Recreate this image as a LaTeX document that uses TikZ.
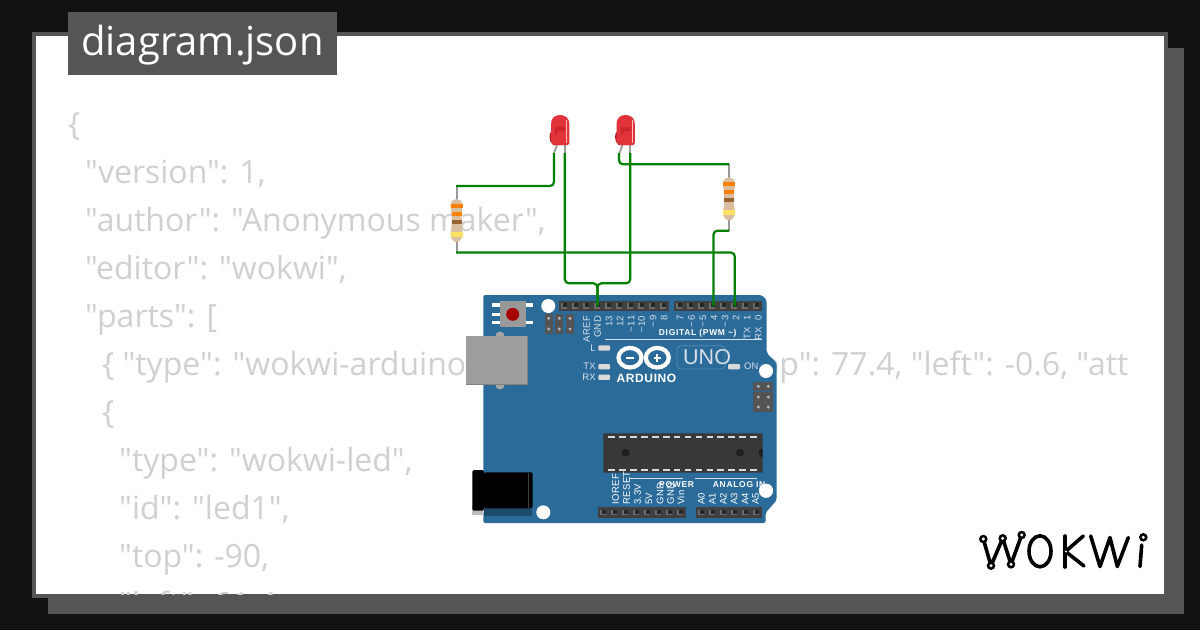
\documentclass[tikz,border=0pt]{standalone}
\usepackage{fontspec}
\newfontfamily\codefont{Open Sans}
\newfontfamily\labelfont{Liberation Sans}
\usetikzlibrary{calc}

\definecolor{pagedark}{HTML}{111111}
\definecolor{framegray}{HTML}{555555}
\definecolor{codegray}{HTML}{D0D0D0}
\definecolor{boardblue}{HTML}{2B6B9A}
\definecolor{wiregreen}{HTML}{008000}
\definecolor{silk}{HTML}{D5E0E8}
\definecolor{resbody}{HTML}{D9BF9F}
\definecolor{ledred}{HTML}{E0343A}
\definecolor{leddark}{HTML}{B81C22}

\tikzset{
  wire/.style = {draw = wiregreen, line width = 2.2pt, rounded corners = 4pt},
  lead/.style = {draw = black!40, line width = 1.8pt},
  codeline/.style = {anchor = base west, inner sep = 0pt, text = codegray, font = \codefont\fontsize{32}{32}\selectfont},
  silkv/.style = {rotate = 90, inner sep = 0pt, text = silk, font = \labelfont\fontsize{9.5}{9.5}\selectfont},
  silkh/.style = {inner sep = 0pt, text = silk, font = \labelfont\fontsize{9.5}{9.5}\selectfont},
  silkbold/.style = {inner sep = 0pt, text = white, font = \labelfont\bfseries\fontsize{8.5}{8.5}\selectfont},
  logo/.style = {draw = black, line width = 3.6pt, line cap = round, line join = round}
}

% header strip: x, y, number of pins
\newcommand{\pinheader}[3]{
  \fill[black!75] (#1, #2) rectangle +({11 * #3}, 10.4);
  \foreach \i in {1, ..., #3}{
    \fill[black!58] ($(#1, #2) + ({11 * \i - 8.5}, 2.5)$) rectangle +(6, 5.5);
    \fill[black!85] ($(#1, #2) + ({11 * \i - 7}, 2.5)$) rectangle +(4.5, 4);
  }
}

% red led: x of body centre
\newcommand{\redled}[1]{
  \draw[lead] (#1 - 3, 145) -- (#1 - 6, 153);
  \draw[lead] (#1 + 4.6, 145) -- (#1 + 4.6, 153);
  \fill[leddark] (#1 - 8, 131) .. controls (#1 - 11, 132) and (#1 - 12, 141) .. (#1 - 7, 145) -- (#1 + 6, 145) -- (#1 + 6, 131) -- cycle;
  \fill[ledred] (#1 - 9, 142) -- (#1 - 9, 124) .. controls (#1 - 9, 118) and (#1 - 5, 115) .. (#1, 115) .. controls (#1 + 5, 115) and (#1 + 9.4, 118) .. (#1 + 9.4, 124) -- (#1 + 9.4, 143) -- (#1 + 8, 145) -- (#1 - 6, 145) -- cycle;
  \draw[red!25!white, line width = .9pt] (#1 + 6.5, 120) -- (#1 + 6.5, 143);
  \fill[leddark, opacity = .5] (#1 - 5, 127) -- (#1 + 5, 127) -- (#1 + 5, 131) -- (#1 - 1, 131) -- (#1 - 5, 136) -- cycle;
}

% resistor: x of centre, y of top of body
\newcommand{\axialres}[2]{
  \fill[resbody] (#1 - 6, #2 + 7) .. controls (#1 - 6, #2 + 2) and (#1 - 3, #2) .. (#1, #2) .. controls (#1 + 3, #2) and (#1 + 6, #2 + 2) .. (#1 + 6, #2 + 7) -- (#1 + 5, #2 + 17) -- (#1 + 5, #2 + 27) -- (#1 + 6, #2 + 35) .. controls (#1 + 6, #2 + 40) and (#1 + 3, #2 + 43) .. (#1, #2 + 43) .. controls (#1 - 3, #2 + 43) and (#1 - 6, #2 + 40) .. (#1 - 6, #2 + 35) -- (#1 - 5, #2 + 27) -- (#1 - 5, #2 + 17) -- cycle;
  \fill[orange] (#1 - 6, #2 + 4.5) rectangle (#1 + 6, #2 + 9);
  \fill[orange] (#1 - 5, #2 + 12.7) rectangle (#1 + 5, #2 + 16.7);
  \fill[brown!80!black] (#1 - 5, #2 + 21) rectangle (#1 + 5, #2 + 25);
  \fill[yellow!70!orange!60!white] (#1 - 6, #2 + 33) rectangle (#1 + 6, #2 + 38);
}

\begin{document}
\begin{tikzpicture}[x = 1pt, y = -1pt]
  \useasboundingbox (0, 0) rectangle (1200, 630);
  \fill[pagedark] (0, 0) rectangle (1200, 630);

  % frame
  \fill[framegray] (48, 48) rectangle (1184, 614);
  \fill[framegray] (32, 32) rectangle (1168, 598);
  \fill[white] (36, 36) rectangle (1164, 594);

  % code behind the board
  \begin{scope}
    \clip (36, 36) rectangle (1164, 594);
    \foreach \y/\x/\s in {135/68/{\{},
        183/85/{"version": 1,},
        231/85/{"author": "Anonymous maker",},
        279/85/{"editor": "wokwi",},
        327/85/{"parts": [},
        375/102/{\{ "type": "wokwi-arduino-uno", "id": "uno", "top": 77.4, "left": -0.6, "att},
        423/102/{\{},
        471/119/{"type": "wokwi-led",},
        519/119/{"id": "led1",},
        567/119/{"top": -90,},
        615/119/{"left": 61.4,}}{
      \node[codeline] at (\x, \y) {\s};
    }
  \end{scope}

  \fill[framegray] (68, 12) rectangle (337, 75);
  \node[text = white, inner sep = 0pt, font = \codefont\fontsize{40}{40}\selectfont] (title) at (202.5, 45) {diagram.json};

  % board
  \fill[boardblue, rounded corners = 2pt] (483.3, 295) -- (761.7, 295) -- (766.7, 300) -- (766.7, 353) -- (776.7, 363) -- (776.7, 500) -- (765.5, 513) -- (765.5, 523) -- (483.3, 523) -- cycle;

  % reset button
  \foreach \y in {305, 314.3, 322.7}{
    \fill[white] (492, \y - 1.7) rectangle (500, \y + 1.7);
  }
  \foreach \y in {305, 322.7}{
    \fill[white] (526, \y - 1.7) rectangle (533, \y + 1.7);
  }
  \fill[black!40] (500, 301) rectangle (526, 326.7);
  \fill[red!65!black] (512.7, 314.3) circle (6.5);

  % holes
  \foreach \x/\y in {548.3/306, 766/371, 766/490.7, 543.3/512.3}{
    \fill[white] (\x, \y) circle (7);
  }

  % icsp
  \foreach \x in {548.7, 559.3, 570}{
    \fill[black!67] (\x - 4, 314) rectangle (\x + 4, 334.3);
    \foreach \y in {318.3, 329}{
      \fill[black!30] (\x, \y) circle (1.7);
    }
  }
  \foreach \y in {386.3, 397, 407}{
    \fill[black!67] (753.3, \y - 4.7) rectangle (773.3, \y + 4.7);
    \foreach \x in {758.3, 768.3}{
      \fill[black!30] (\x, \y) circle (1.7);
    }
  }

  % usb
  \foreach \y in {336, 385}{
    \fill[black!35] (500, \y) circle (4.5);
  }
  \fill[black!50] (466, 335.7) rectangle (528.3, 385);
  \fill[black!38] (466, 335.7) rectangle (527.3, 384);

  % power jack
  \fill[black!25] (472.3, 505) rectangle (484, 515);
  \fill[boardblue!70!black] (484, 505) rectangle (532, 516);
  \fill[black, rounded corners = 1.5pt] (472.3, 470) rectangle (484, 510.7);
  \fill[black, rounded corners = 2pt] (484, 472.3) rectangle (532.7, 508.3);
  \draw[black!75, line width = .6pt] (528.5, 473) -- (528.5, 508);

  % headers
  \pinheader{558.7}{300.7}{10}
  \pinheader{673.5}{300.7}{8}
  \pinheader{597.7}{507.3}{8}
  \pinheader{695.8}{507.3}{6}

  % chip
  \fill[black!78, rounded corners = .8pt] (603.3, 433.3) rectangle (762.7, 472.7);
  \foreach \i in {0, ..., 13}{
    \fill[black!15] ({608.4 + 10.9 * \i}, 435.8) rectangle +(6.6, 2);
    \fill[black!15] ({608.4 + 10.9 * \i}, 469.3) rectangle +(6.6, 2);
  }
  \foreach \x in {625.7, 740}{
    \fill[black!88] (\x, 452.7) circle (4);
  }
  \begin{scope}
    \clip (750, 440) rectangle (762.7, 465);
    \fill[black!88] (763, 452.7) circle (4.5);
  \end{scope}

  % silk labels on top
  \foreach \x/\s in {586.7/AREF, 597.5/GND, 609/13, 620/12, 631/{\textasciitilde 11}, 641.7/{\textasciitilde 10}, 653/{\textasciitilde 9}, 664/8,
      680/7, 691.7/{\textasciitilde 6}, 703/{\textasciitilde 5}, 714/4, 725/{\textasciitilde 3}, 736/2, 747/1, 758.3/0}{
    \node[silkv, anchor = east] at (\x, 315.5) {\addfontfeature{LetterSpace = 6}\s};
  }
  \foreach \x/\s in {747/TX, 758.3/RX}{
    \node[silkv, anchor = east] at (\x, 326.5) {\addfontfeature{LetterSpace = 6}\s};
  }
  \node[silkbold, anchor = west] (digital) at (658.7, 333) {\addfontfeature{LetterSpace = 8}DIGITAL (PWM \textasciitilde)};
  \draw[silk, line width = .5pt] (605, 339) -- (761.7, 339);

  \foreach \x/\s in {615.7/IOREF, 626.7/RESET, 637.7/3.3V, 649/5V, 660/GND, 670.7/GND, 681/Vin,
      701.3/A0, 712.3/A1, 723.3/A2, 734/A3, 745/A4, 755.7/A5}{
    \node[silkv, anchor = west, text = white] at (\x, 505) {\addfontfeature{LetterSpace = 5}\s};
  }
  \draw[silk, line width = .5pt] (630, 478.3) -- (683, 478.3);
  \draw[silk, line width = .5pt] (695, 478.3) -- (756.7, 478.3);
  \node[silkbold, anchor = west] (power) at (659, 485) {\addfontfeature{LetterSpace = 8}POWER};
  \node[silkbold, anchor = west] (analog) at (712.7, 485) {\addfontfeature{LetterSpace = 8}ANALOG IN};
  \fill[white] (766, 490.7) circle (7);

  % status leds
  \foreach \x/\y/\s in {598.3/348/L, 598.3/366.7/TX, 598.3/377.3/RX}{
    \fill[black!15, rounded corners = 1pt] (\x, \y - 2.6) rectangle +(11.7, 5.2);
    \node[silkh, anchor = east] at (\x - 2.5, \y) {\s};
  }
  \fill[black!15, rounded corners = 1pt] (728, 364.2) rectangle +(12, 5.2);
  \node[silkh, anchor = west] at (744, 366.7) {ON};

  % arduino logo
  \draw[white, line width = 4.2pt] (630, 357.7) ellipse (11.5 and 9.8);
  \draw[white, line width = 4.2pt] (657.3, 357.7) ellipse (11.5 and 9.8);
  \draw[white, line width = 1.8pt] (626, 357.7) -- (634, 357.7);
  \draw[white, line width = 1.8pt] (653.5, 357.7) -- (661.1, 357.7);
  \draw[white, line width = 1.8pt] (657.3, 353.9) -- (657.3, 361.5);
  \node[inner sep = 0pt, text = white, anchor = west, font = \labelfont\bfseries\fontsize{12}{12}\selectfont] (arduino) at (616.5, 377.9) {\addfontfeature{LetterSpace = 5}ARDUINO};
  \draw[boardblue!80!white, line width = .8pt, rounded corners = 4pt] (677, 345.7) rectangle (725, 369);
  \node[inner sep = 0pt, text = silk, anchor = west, font = \labelfont\fontsize{21.5}{21.5}\selectfont] (uno) at (683, 357) {UNO};

  % parts
  \redled{560}
  \redled{625.5}

  \draw[lead] (456.6, 186) -- (456.6, 252.3);
  \axialres{456.6}{199}
  \draw[lead] (729, 164.3) -- (729, 230.7);
  \axialres{729}{177.3}

  % wires
  \coordinate (led1a) at (554, 153);
  \coordinate (led1c) at (564.8, 153);
  \coordinate (led2a) at (619, 153);
  \coordinate (led2c) at (630.2, 153);
  \coordinate (r1top) at (456, 186);
  \coordinate (r1bot) at (456, 252.5);
  \coordinate (r2top) at (729, 164.3);
  \coordinate (r2bot) at (729, 230.7);
  \coordinate (gnd) at (597.4, 306);
  \coordinate (pin4) at (713.4, 306);
  \coordinate (pin2) at (734.8, 306);

  \draw[wire] (led1a) |- (r1top);
  \draw[wire] (r1bot) -| (pin2);
  \draw[wire] (led2a) |- (r2top);
  \draw[wire] (r2bot) -| (pin4);
  \draw[wire] (led1c) |- (597.4, 283.3) -- (gnd);
  \draw[wire] (led2c) |- (597.4, 283.3) -- (gnd);

  % wokwi logo
  \begin{scope}[logo]
    \draw (983.3, 539) -- (991, 565.7) -- (1002.7, 538.3) -- (1011, 564.3) -- (1021.7, 535);
    \draw (1040, 551.3) ellipse (11 and 15.5);
    \draw (1065, 536) -- (1065, 567);
    \draw (1083.3, 536) -- (1065.5, 551.5) -- (1084, 566);
    \draw (1090.7, 536) -- (1100, 566.5) -- (1110, 537.5) -- (1117.3, 566.5) -- (1128.3, 537.5);
    \draw (1141.7, 545) -- (1140, 566.5);
  \end{scope}
  \foreach \x/\y in {983.3/539, 1002.7/538.3, 1021.7/535, 991/565.7, 1011/564.3, 1143.3/537.3}{
    \fill[black] (\x, \y) circle (4.3);
    \fill[white] (\x, \y) circle (1.7);
  }
  \fill[white] (1066, 551.5) circle (1.1);
\end{tikzpicture}
\end{document}
